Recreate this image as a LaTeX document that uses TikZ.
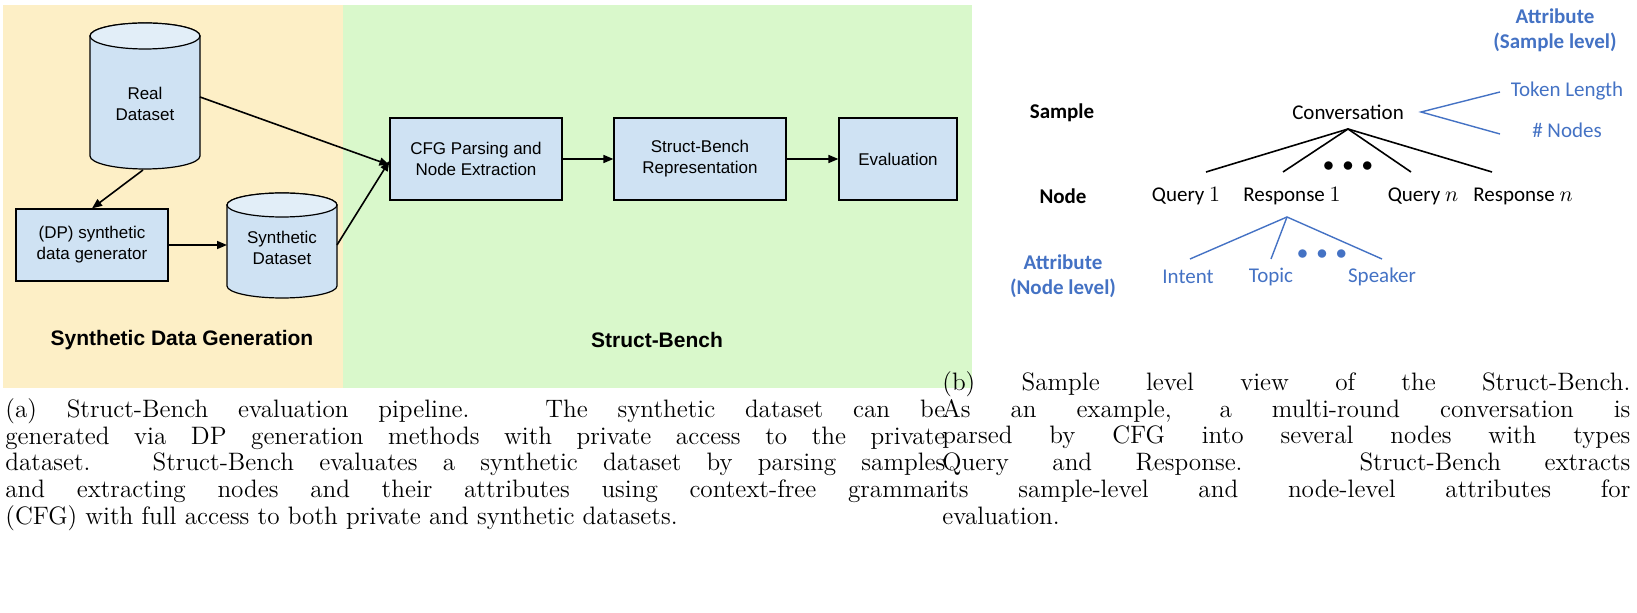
\documentclass[tikz,border=0pt]{standalone}
\usepackage{fontspec}
\newfontfamily\arialf{Liberation Sans}
\newfontfamily\calf{Carlito}
\usetikzlibrary{arrows.meta,calc}
\definecolor{yel}{HTML}{FDEFC6}
\definecolor{grn}{HTML}{D9F8CB}
\definecolor{cyl}{HTML}{CFE2F3}
\definecolor{blu}{HTML}{4472C4}
\newcommand{\mycyl}[5]{%
  \filldraw[fill=cyl,draw=black,line width=0.6pt] ($(#1,#2)+(-#4,0)$) -- ($(#1,#3)+(-#4,0)$) arc[start angle=180,end angle=360,x radius=#4,y radius=#5] -- ($(#1,#2)+(#4,0)$) arc[start angle=0,end angle=180,x radius=#4,y radius=#5] -- cycle;
  \filldraw[fill=cyl!60!white,draw=black,line width=0.6pt] (#1,#2) ellipse[x radius=#4,y radius=#5];}
\begin{document}
\begin{tikzpicture}[x=0.5pt,y=-0.5pt,
  box/.style={draw=black,fill=cyl,line width=0.6pt,align=center,font=\arialf\fontsize{8.5}{10.5}\selectfont,inner sep=0pt},
  ctext/.style={align=center,font=\arialf\fontsize{8.5}{10.5}\selectfont,inner sep=0pt},
  arr/.style={-{Triangle[length=5pt,width=4pt]},line width=0.8pt},
  lab/.style={font=\calf\fontsize{10.5}{12}\selectfont},
  blab/.style={font=\calf\fontsize{10.5}{12}\selectfont,text=blu},
  bl/.style={draw=blu,line width=0.7pt},
  kl/.style={draw=black,line width=0.8pt},
  captxt/.style={font=\fontsize{12.6}{13.4}\selectfont,align=justify,anchor=north west,inner sep=0pt}]
\useasboundingbox (0,0) rectangle (1637,613);
\fill[yel] (3,5) rectangle (343,388);
\fill[grn] (343,5) rectangle (972,388);
% cylinders
\mycyl{145}{36}{156}{27.5pt}{6.5pt}
\node[ctext] (real) at (145,104) {Real\\Dataset};
\mycyl{282}{205}{286}{27.5pt}{6pt}
\node[ctext] (syn) at (282,248) {Synthetic\\Dataset};
\coordinate (realR) at (200,97);
\coordinate (realB) at (143,170);
\coordinate (synL) at (227,245);
\coordinate (synR) at (337,245);
% boxes
\node[box,minimum width=76pt,minimum height=36pt] (dp) at (92,245) {(DP) synthetic\\data generator};
\node[box,minimum width=86pt,minimum height=41pt] (cfg) at (476,159) {CFG Parsing and\\Node Extraction};
\node[box,minimum width=86pt,minimum height=41pt] (sbr) at (700,159) {Struct-Bench\\Representation};
\node[box,minimum width=59pt,minimum height=41pt] (ev) at (898,159) {Evaluation};
\draw[arr] (realR) -- ([yshift=-3pt]cfg.west);
\draw[arr] (realB) -- (dp.north);
\draw[arr] (dp.east) -- (synL);
\draw[arr] (synR) -- ([yshift=-1pt]cfg.west);
\draw[arr] (cfg) -- (sbr);
\draw[arr] (sbr) -- (ev);
\node[font=\arialf\bfseries\fontsize{10.5}{12}\selectfont] (l1) at (182,340) {Synthetic Data Generation};
\node[font=\arialf\bfseries\fontsize{10.5}{12}\selectfont] (l2) at (657,340) {Struct-Bench};
% right tree
\node[blab,font=\calf\bfseries\fontsize{10.5}{12.5}\selectfont,align=center] (asl) at (1555,30) {Attribute\\(Sample level)};
\node[lab,font=\calf\bfseries\fontsize{10.5}{12}\selectfont] (samp) at (1062,113) {Sample};
\node[lab] (conv) at (1348,112) {Conversation};
\node[blab] (tok) at (1567,91) {Token Length};
\node[blab] (nod) at (1567,130) {\# Nodes};
\coordinate (cr) at (1421,112);
\draw[bl] (1500,92) -- (cr) -- (1500,134);
\coordinate (ca) at (1348,129);
\draw[kl] (1206,172) -- (ca) -- (1492,172);
\draw[kl] (1283,172) -- (ca) -- (1411,172);
\node[lab] (dots1) at (1348,167) {$\bullet\,\bullet\,\bullet$};
\node[lab,font=\calf\bfseries\fontsize{10.5}{12}\selectfont] (nodel) at (1063,196) {Node};
\node[lab] (q1) at (1186,196) {Query $1$};
\node[lab] (r1) at (1292,196) {Response $1$};
\node[lab] (qn) at (1423,196) {Query $n$};
\node[lab] (rn) at (1523,196) {Response $n$};
\coordinate (ra) at (1287,217);
\draw[bl] (1190,259) -- (ra) -- (1382,259);
\draw[bl] (ra) -- (1271,259);
\node[blab] (dots2) at (1322,255) {$\bullet\,\bullet\,\bullet$};
\node[blab] (int) at (1188,277) {Intent};
\node[blab] (top) at (1271,277) {Topic};
\node[blab] (spk) at (1382,277) {Speaker};
\node[blab,font=\calf\bfseries\fontsize{10.5}{12.5}\selectfont,align=center] (anl) at (1063,276) {Attribute\\(Node level)};
% captions
\node[captxt,text width=470pt] (capa) at (5,398) {(a) Struct-Bench evaluation pipeline. The synthetic dataset can be\linebreak generated via DP generation methods with private access to the private\linebreak dataset. Struct-Bench evaluates a synthetic dataset by parsing samples\linebreak and extracting nodes and their attributes using context-free grammar\linebreak (CFG) with full access to both private and synthetic datasets.};
\node[captxt,text width=344pt] (capb) at (942,371) {(b) Sample level view of the Struct-Bench.\linebreak As an example, a multi-round conversation is\linebreak parsed by CFG into several nodes with types\linebreak Query and Response. Struct-Bench extracts\linebreak its sample-level and node-level attributes for\linebreak evaluation.};
\end{tikzpicture}
\end{document}
